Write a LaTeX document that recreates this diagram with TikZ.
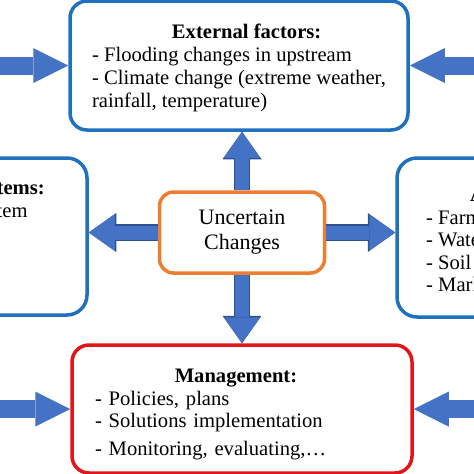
\documentclass[tikz,border=0pt]{standalone}
\usepackage{fontspec}
\setmainfont{Liberation Serif}
\usetikzlibrary{arrows.meta}

\definecolor{boxblue}{RGB}{31,113,189}
\definecolor{boxorange}{RGB}{237,125,49}
\definecolor{boxred}{RGB}{226,22,26}
\definecolor{arrfill}{RGB}{68,114,196}
\definecolor{arredge}{RGB}{47,82,143}

\begin{document}
\begin{tikzpicture}[
      x=1pt, y=-1pt,
      box/.style={draw=boxblue, line width=3.5pt, rounded corners=17pt, inner sep=0pt,
        font=\fontsize{20.6}{23}\selectfont},
      txt/.style={inner sep=0pt, align=left, font=\fontsize{20.6}{22.5}\selectfont},
      blkarr/.style={line width=14pt, draw=arrfill,
        -{Triangle[length=26pt, width=36pt, line width=0pt]},
        preaction={draw=arredge, line width=16.5pt,
          -{Triangle[length=27.5pt, width=39pt, line width=0pt]}}},
      outarr/.style={line width=18pt, draw=arrfill,
        -{Triangle[length=35pt, width=35pt, line width=0pt]}}
    ]

% Frame
      \fill[white] (0,0) rectangle (474,474);
      \useasboundingbox (0,0) rectangle (474,474);
      \clip (0,0) rectangle (474,474);

% Centre box
      \node[box, draw=boxorange, rounded corners=14pt, minimum width=165pt, minimum height=81pt,
        align=center, font=\fontsize{22}{25}\selectfont] (ctr) at (242,232.5) {Uncertain\\Changes};

% Top and bottom boxes
      \node[box, minimum width=338pt, minimum height=129pt, align=left] (ext) at (239,65.5)
        {\rule{0pt}{20pt}\makebox[289pt]{\hspace{20pt}\textbf{External factors:}}\\- Flooding changes in upstream\\
         - Climate change (extreme weather,\\rainfall, temperature)};
      \node[box, draw=boxred, minimum width=340pt, minimum height=128pt, text width=294pt, align=left,
        font=\fontsize{20.6}{22.5}\selectfont] (mgmt) at (242,409)
        {\rule{0pt}{24pt}\makebox[\linewidth]{\textbf{Management:}\hspace{12pt}}\\- Policies, plans\\- Solutions implementation\\[5pt]
         - Monitoring, evaluating,…};

% Side boxes (cut by the frame)
      \node[box, rounded corners=20pt, minimum width=200pt, minimum height=157pt] (sys) at (-13,236.5) {};
      \node[txt, anchor=base west] (systxt) at (-3.5,217) {\textbf{tems:}\\tem};
      \node[box, rounded corners=20pt, minimum width=200pt, minimum height=159pt] (agri) at (497,237.5) {};
      \node[txt, anchor=west] (agritxt) at (426,240) {\hspace*{44pt}\textbf{A}\\- Farm\\- Wate\\- Soil e\\- Mark};

% Outer inputs
      \coordinate (inTL) at ([xshift=-80pt]ext.west);
      \coordinate (inTR) at ([xshift=80pt]ext.east);
      \coordinate (inBL) at ([xshift=-80pt]mgmt.west);
      \coordinate (inBR) at ([xshift=80pt]mgmt.east);

% Arrows
      \draw[blkarr] (ctr.north) -- (ctr.north |- ext.south);
      \draw[blkarr] (ctr.south) -- (ctr.south |- mgmt.north);
      \draw[blkarr] (ctr.west) -- (ctr.west -| sys.east);
      \draw[blkarr] (ctr.east) -- (ctr.east -| agri.west);

      \draw[outarr] (inTL) -- (ext.west);
      \draw[outarr] (inTR) -- (ext.east);
      \draw[outarr] (inBL) -- (mgmt.west);
      \draw[outarr] (inBR) -- (mgmt.east);
    \end{tikzpicture}
\end{document}
